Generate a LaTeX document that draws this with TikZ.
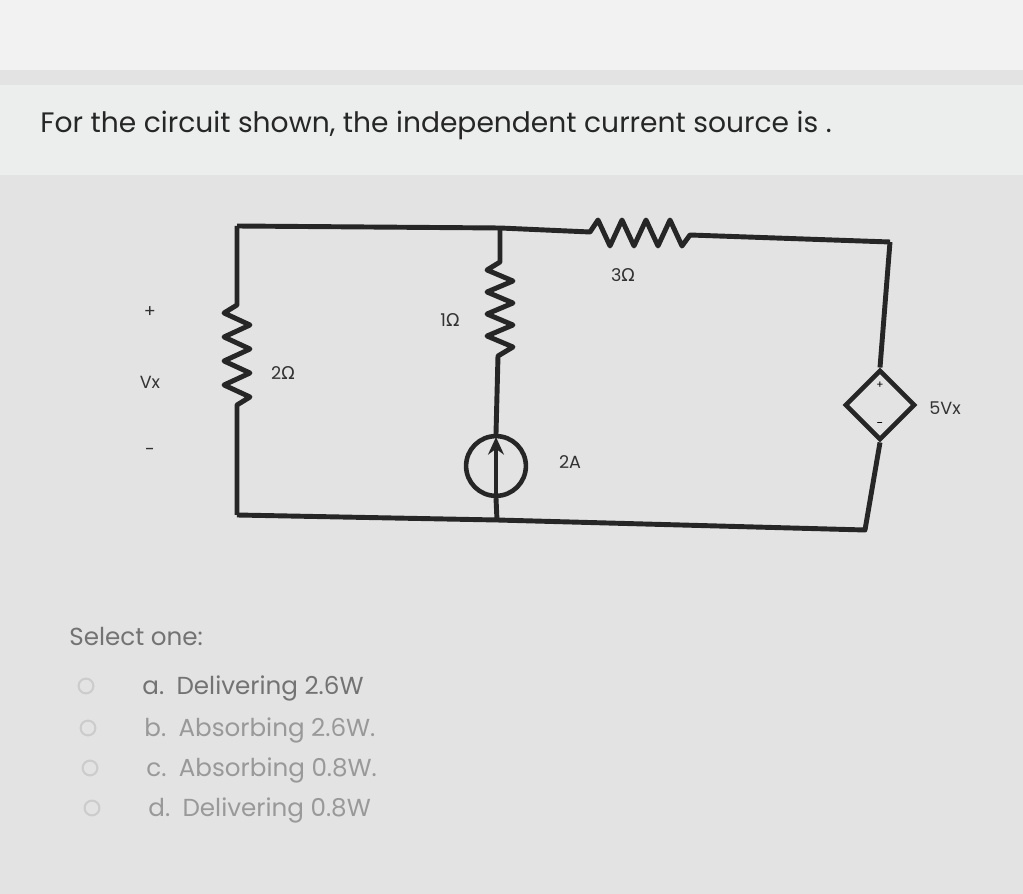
\documentclass[tikz,border=0pt]{standalone}
\usepackage{fontspec}
\setmainfont{Poppins}
\newfontfamily\gr{DejaVu Sans}
\usetikzlibrary{shapes.geometric,arrows.meta}
\begin{document}
\begin{tikzpicture}[x=0.01cm,y=-0.01cm,
  wire/.style={line width=1.4pt,black!85,line join=round},
  lbl/.style={font=\fontsize{5}{6}\selectfont,text=black!80},
  opt/.style={font=\fontsize{7}{8}\selectfont,text=black!55,anchor=west},
  radio/.style={circle,draw=black!20,line width=0.6pt,minimum size=4.2pt,inner sep=0pt}]
\fill[gray!22] (0,0) rectangle (1023,894);
\fill[gray!10] (0,0) rectangle (1023,70);
\fill[teal!8!gray!14] (0,85) rectangle (1023,175);
\node[anchor=west,font=\fontsize{8}{9}\selectfont,text=black!85] (title) at (28,125) {For the circuit shown, the independent current source is .};
\coordinate (tl) at (237,226);
\coordinate (tm) at (500,228);
\coordinate (tr) at (890,242);
\coordinate (br) at (865,530);
\coordinate (bm) at (497,520);
\coordinate (bl) at (237,515);
\draw[wire] (tl) -- (tm) -- (590,232) -- (598,220) -- (610,246) -- (622,220) -- (634,246) -- (646,220) -- (658,246) -- (670,220) -- (682,246) -- (690,235) -- (tr);
\node[diamond,draw,line width=1.3pt,black!85,minimum size=20pt,inner sep=0pt] (dep) at (880,405) {};
\node[font=\fontsize{3}{3}\selectfont] at (880,385) {+};
\node[font=\fontsize{3.5}{4}\selectfont] at (880,425) {-};
\draw[wire] (tr) -- (dep.north);
\draw[wire] (dep.south) -- (br) -- (bm) -- (bl);
\draw[wire] (tl) -- (237,305) -- (224,313) -- (250,325) -- (224,337) -- (250,349) -- (224,361) -- (250,373) -- (224,385) -- (250,397) -- (237,405) -- (bl);
\node[circle,draw,line width=1.3pt,black!85,minimum size=17pt,inner sep=0pt] (cs) at (496,466) {};
\draw[wire] (tm) -- (500,262) -- (487,270) -- (513,281) -- (487,292) -- (513,303) -- (487,314) -- (513,325) -- (487,336) -- (513,347) -- (498,356) -- (cs.north);
\draw[wire] (cs.south) -- (bm);
\draw[line width=1.3pt,black!85,-{Stealth[length=5pt,width=4.5pt]}] (496,495) -- (496,437);
\node[lbl] (lp) at (150,312) {+};
\node[lbl] (lvx) at (150,382) {Vx};
\node[lbl] (lm) at (150,452) {-};
\node[lbl] (l2) at (283,373) {2{\gr Ω}};
\node[lbl] (l1) at (450,320) {1{\gr Ω}};
\node[lbl] (l3) at (623,275) {3{\gr Ω}};
\node[lbl] (l2a) at (570,462) {2A};
\node[lbl] (l5) at (945,408) {5Vx};
\node[opt] (sel) at (57,637) {Select one:};
\node[radio] (r1) at (86,686) {};
\node[radio] (r2) at (88,728) {};
\node[radio] (r3) at (90,768) {};
\node[radio] (r4) at (92,808) {};
\node[opt] (o1) at (130,688) {a.\enspace Delivering 2.6W};
\node[opt,text=black!40] (o2) at (132,730) {b.\enspace Absorbing 2.6W.};
\node[opt,text=black!40] (o3) at (134,770) {c.\enspace Absorbing 0.8W.};
\node[opt,text=black!40] (o4) at (136,810) {d.\enspace Delivering 0.8W};
\end{tikzpicture}
\end{document}
